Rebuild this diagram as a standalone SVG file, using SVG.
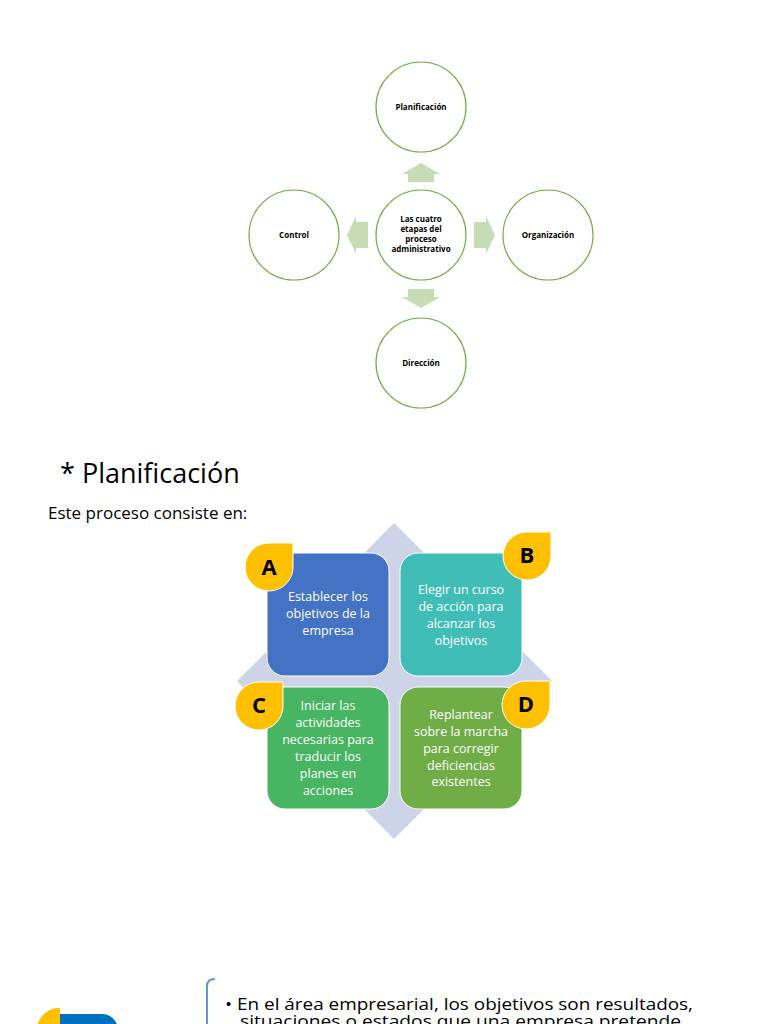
<svg xmlns="http://www.w3.org/2000/svg" width="768" height="1024" viewBox="0 0 768 1024">
<style>
.c{fill:#fff;stroke:#70ad47;stroke-width:1.2}
.ct{font-family:"Open Sans","Liberation Sans",sans-serif;font-size:8px;font-weight:bold;fill:#000;text-anchor:middle}
.ar{fill:#c5dcb4}
.bt{font-family:"Open Sans","Liberation Sans",sans-serif;font-size:12.5px;fill:#fff;text-anchor:middle}
.bd{fill:#ffc000;stroke:#fff;stroke-width:1}
.bl{font-family:"Open Sans","Liberation Sans",sans-serif;font-size:22px;font-weight:bold;fill:#000;text-anchor:middle}
.h{font-family:"Open Sans","Liberation Sans",sans-serif;fill:#000}
</style>
<rect width="768" height="1024" fill="#fff"/>
<g id="connectors">
<polygon class="ar" points="408,182 408,174 402,174 421,163 440,174 434,174 434,182"/>
<polygon class="ar" points="408,289 408,297 402,297 421,308 440,297 434,297 434,289"/>
<polygon class="ar" points="368,222 356,222 356,216 347,235 356,254 356,248 368,248"/>
<polygon class="ar" points="474,222 486,222 486,216 495,235 486,254 486,248 474,248"/>
</g>
<g id="n-plan"><circle class="c" cx="421" cy="107" r="45"/><text class="ct" x="421" y="110">Planificación</text></g>
<g id="n-center"><circle class="c" cx="421" cy="235" r="45"/><text class="ct" x="421" y="222">Las cuatro</text><text class="ct" x="421" y="232">etapas del</text><text class="ct" x="421" y="242">proceso</text><text class="ct" x="421" y="252">administrativo</text></g>
<g id="n-control"><circle class="c" cx="294" cy="235" r="45"/><text class="ct" x="294" y="238">Control</text></g>
<g id="n-org"><circle class="c" cx="548" cy="235" r="45"/><text class="ct" x="548" y="238">Organización</text></g>
<g id="n-dir"><circle class="c" cx="421" cy="363" r="45"/><text class="ct" x="421" y="366">Dirección</text></g>
<text class="h" x="60" y="483" font-size="27">* Planificación</text>
<text class="h" x="48" y="519" font-size="17">Este proceso consiste en:</text>
<polygon points="394,523 552,681 394,839 237,681" fill="#ced4e8"/>
<g id="n-a"><rect x="267" y="553" width="122" height="123" rx="18" fill="#4472c4" stroke="#fff"/><text class="bt" x="328" y="601">Establecer los</text><text class="bt" x="328" y="618">objetivos de la</text><text class="bt" x="328" y="635">empresa</text></g>
<g id="n-b"><rect x="400" y="553" width="122" height="123" rx="18" fill="#41bdb7" stroke="#fff"/><text class="bt" x="461" y="594">Elegir un curso</text><text class="bt" x="461" y="611">de acción para</text><text class="bt" x="461" y="628">alcanzar los</text><text class="bt" x="461" y="645">objetivos</text></g>
<g id="n-c"><rect x="267" y="687" width="122" height="122" rx="18" fill="#47b561" stroke="#fff"/><text class="bt" x="328" y="710">Iniciar las</text><text class="bt" x="328" y="727">actividades</text><text class="bt" x="328" y="744">necesarias para</text><text class="bt" x="328" y="761">traducir los</text><text class="bt" x="328" y="778">planes en</text><text class="bt" x="328" y="795">acciones</text></g>
<g id="n-d"><rect x="400" y="687" width="122" height="122" rx="18" fill="#70ad47" stroke="#fff"/><text class="bt" x="461" y="719">Replantear</text><text class="bt" x="461" y="736">sobre la marcha</text><text class="bt" x="461" y="753">para corregir</text><text class="bt" x="461" y="770">deficiencias</text><text class="bt" x="461" y="786">existentes</text></g>
<g id="b-a"><path class="bd" d="M293,543 L293,566 A24,24 0 1 1 269,543 Z"/><text class="bl" x="269" y="575">A</text></g>
<g id="b-b"><path class="bd" d="M551,532 L551,555 A24,24 0 1 1 527,532 Z"/><text class="bl" x="527" y="563">B</text></g>
<g id="b-c"><path class="bd" d="M283,682 L283,705 A24,24 0 1 1 259,682 Z"/><text class="bl" x="259" y="713">C</text></g>
<g id="b-d"><path class="bd" d="M550,681 L550,704 A24,24 0 1 1 526,681 Z"/><text class="bl" x="526" y="712">D</text></g>
<g id="bottom">
<path d="M58,1008 A22,22 0 0 0 37,1030 L60,1030 Z" fill="#ffc000"/>
<rect x="58" y="1008" width="2" height="20" fill="#ffc000"/>
<path d="M60,1040 L60,1014 L102,1014 A16,16 0 0 1 118,1030 L118,1040 Z" fill="#0070c0"/>
<path d="M215,979 Q207,979 207,986 L207,1024" fill="none" stroke="#5b9bd5" stroke-width="2"/>
<text class="h" x="225" y="1010" font-size="17" font-family="'Liberation Sans Narrow','Open Sans',sans-serif" textLength="468" lengthAdjust="spacingAndGlyphs">• En el área empresarial, los objetivos son resultados,</text>
<text class="h" x="240" y="1027" font-size="17" textLength="441" lengthAdjust="spacingAndGlyphs">situaciones o estados que una empresa pretende</text>
</g>
</svg>
